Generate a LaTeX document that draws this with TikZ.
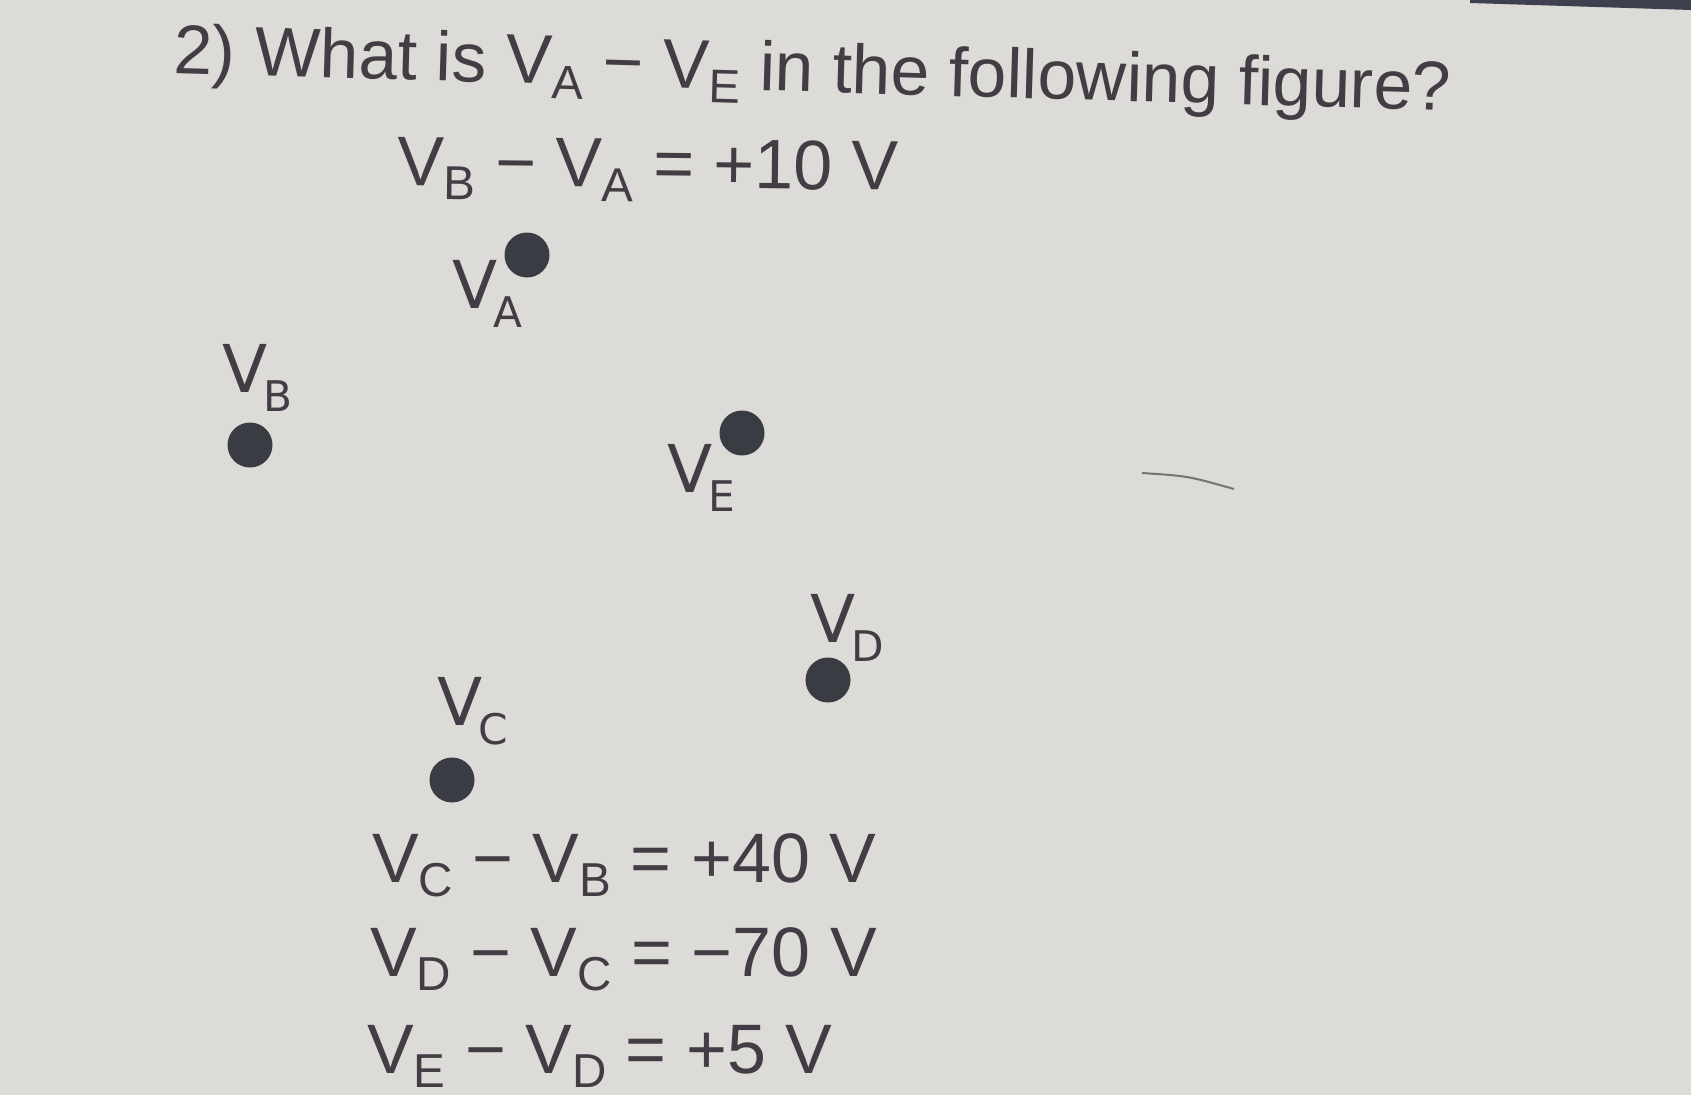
\documentclass[tikz,border=0pt]{standalone}
\usepackage{fontspec}
\setmainfont{Liberation Sans}
\newfontfamily\labelfont{DejaVu Sans}
\usepackage{xcolor}
\definecolor{paper}{RGB}{221,219,215}
\definecolor{ink}{RGB}{66,60,68}
\definecolor{dotgray}{RGB}{58,60,68}
\definecolor{bezel}{RGB}{62,64,80}
\newcommand{\lowsub}[1]{\raisebox{-0.2em}{\scalebox{0.68}{#1}}}
\newcommand{\ptsub}[1]{\kern-0.06em\raisebox{-0.3em}{\scalebox{0.64}{#1}}}
\tikzstyle{question} = [anchor=base west, inner sep=0pt, text=ink,
    font=\fontsize{69.5}{80}\selectfont]
\tikzstyle{equation} = [anchor=base west, inner sep=0pt, text=ink,
    font=\fontsize{70}{84}\selectfont]
\tikzstyle{point} = [circle, fill=dotgray, minimum size=45pt, inner sep=0pt]
\tikzstyle{ptlabel} = [anchor=base west, inner sep=0pt, text=ink,
    font=\labelfont\fontsize{66}{78}\selectfont]

\begin{document}
\begin{tikzpicture}[x=1pt, y=-1pt]
            % Background
            \fill [paper] (0,0) rectangle (1691,1095);
            \useasboundingbox (0,0) rectangle (1691,1095);
            \fill [bezel] (1470,0) -- (1691,0) -- (1691,10) -- (1470,3) -- cycle;
            % Place text
            \node [question, rotate=-1.7] (title) at (173,73) {2) What is V\lowsub{A} − V\lowsub{E} in the following figure?};
            \node [equation, rotate=-0.6] (eqba) at (397,185) {V\lowsub{B} − V\lowsub{A} = +10 V};
            \node [equation] (eqcb) at (372,882) {V\lowsub{C} − V\lowsub{B} = +40 V};
            \node [equation] (eqdc) at (370,976) {V\lowsub{D} − V\lowsub{C} = −70 V};
            \node [equation] (eqed) at (367,1073) {V\lowsub{E} − V\lowsub{D} = +5 V};
            % Place points
            \node [point] (a) at (527,255) {};
            \node [point] (b) at (250,445) {};
            \node [point] (e) at (742,433) {};
            \node [point] (d) at (828,680) {};
            \node [point] (c) at (452,780) {};
            \node [ptlabel] (la) at (452,308) {V\ptsub{A}};
            \node [ptlabel] (lb) at (222,392) {V\ptsub{B}};
            \node [ptlabel] (le) at (667,492) {V\ptsub{E}};
            \node [ptlabel] (ld) at (810,642) {V\ptsub{D}};
            \node [ptlabel] (lc) at (437,725) {V\ptsub{C}};
            % Stray mark
            \draw [gray!90!black, line width=2pt] (1142,473) .. controls (1188,476) .. (1234,489);
        \end{tikzpicture}
\end{document}
